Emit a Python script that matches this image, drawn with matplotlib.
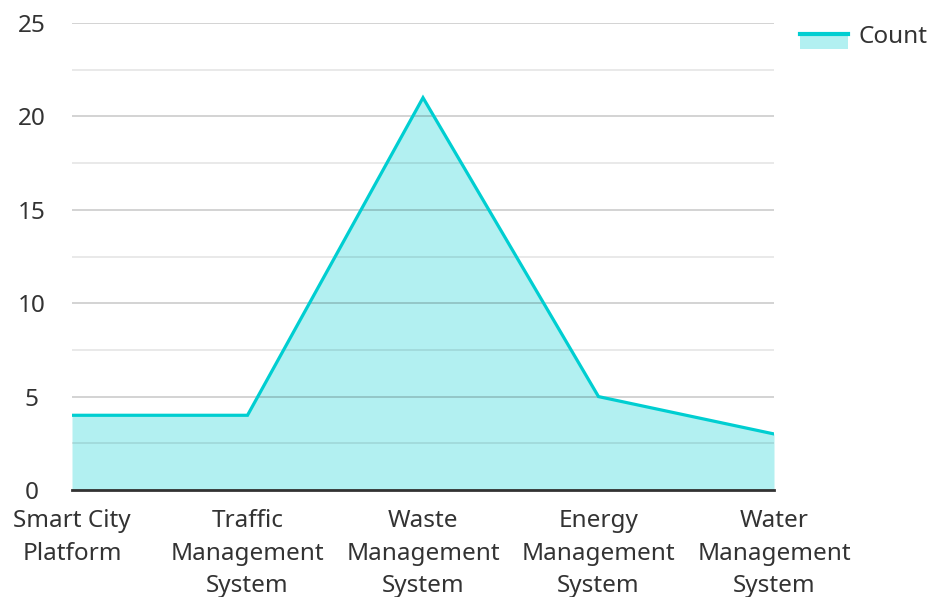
import matplotlib.pyplot as plt
import matplotlib.patches as mpatches
from matplotlib.lines import Line2D
from matplotlib.legend_handler import HandlerBase
from matplotlib.ticker import MultipleLocator

categories = ['Smart City\nPlatform', 'Traffic\nManagement\nSystem', 'Waste\nManagement\nSystem',
              'Energy\nManagement\nSystem', 'Water\nManagement\nSystem']
counts = [4, 4, 21, 5, 3]

line_color = '#00CED1'
fill_color = '#B2F0F1'

plt.rcParams['font.family'] = ['Noto Sans', 'DejaVu Sans']


class AreaHandler(HandlerBase):
    # filled box with the series line along its top edge
    def create_artists(self, legend, orig_handle, xdescent, ydescent, width, height, fontsize, trans):
        y0 = -ydescent - 4
        rect = mpatches.Rectangle((-xdescent, y0), width, height * 0.85,
                                  facecolor=fill_color, edgecolor='none', transform=trans)
        top = y0 + height * 0.85
        line = Line2D([-xdescent, -xdescent + width], [top, top], color=line_color, lw=3, transform=trans)
        return [rect, line]


fig = plt.figure(figsize=(9.32, 5.97), dpi=100)
ax = fig.add_axes([72 / 932, 1 - 490 / 597, (774 - 72) / 932, (490 - 23) / 597])

x = list(range(len(categories)))
ax.fill_between(x, counts, 0, color=fill_color, lw=0, zorder=1)
ax.plot(x, counts, color=line_color, lw=2.3, zorder=3, solid_joinstyle='miter')

ax.set_xlim(0, len(categories) - 1)
ax.set_ylim(0, 25)
ax.yaxis.set_major_locator(MultipleLocator(5))
ax.yaxis.set_minor_locator(MultipleLocator(2.5))
ax.grid(which='major', axis='y', color='black', alpha=0.2, lw=1.2, zorder=2)
ax.grid(which='minor', axis='y', color='black', alpha=0.1, lw=1.2, zorder=2)
ax.set_axisbelow(False)

ax.set_xticks(x)
ax.set_xticklabels(categories, fontsize=17.5, color='#333333', linespacing=1.45)
ax.tick_params(axis='y', which='both', length=0, labelsize=17.5, labelcolor='#333333', pad=29)
ax.tick_params(axis='x', length=0, pad=14)
for lbl in ax.get_yticklabels():
    lbl.set_horizontalalignment('center')

for s in ['top', 'right', 'left']:
    ax.spines[s].set_visible(False)
ax.spines['bottom'].set_color('#333333')
ax.spines['bottom'].set_linewidth(2)
ax.spines['bottom'].set_zorder(4)

handle = mpatches.Patch()
fig.legend([handle], ['Count'], handler_map={mpatches.Patch: AreaHandler()},
           loc='center left', bbox_to_anchor=(788 / 932, 1 - 37 / 597), frameon=False,
           fontsize=17.5, handlelength=1.97, handleheight=0.7, handletextpad=0.41,
           borderpad=0, labelcolor='#333333')

fig.savefig('out.png', dpi=100)
plt.close(fig)
